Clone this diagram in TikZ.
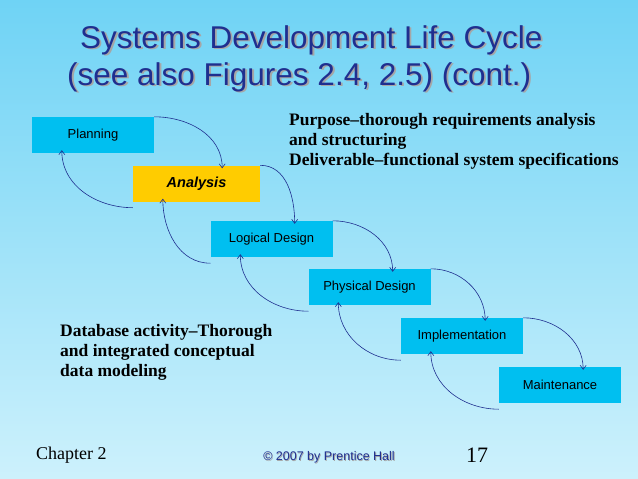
\documentclass[tikz,border=0pt]{standalone}
\usepackage{fontspec}
\setmainfont{Liberation Sans}
\newfontfamily\tnr{Liberation Serif}
\usetikzlibrary{arrows.meta}
\definecolor{bgtop}{HTML}{6FD3F5}
\definecolor{bgbot}{HTML}{CDF1FC}
\definecolor{boxc}{HTML}{00BFF0}
\definecolor{yel}{HTML}{FFCC00}
\definecolor{navy}{HTML}{1F2F8F}
\tikzset{
 stage/.style={fill=boxc,minimum width=122pt,minimum height=36pt,inner sep=0pt,font=\fontsize{13}{15}\selectfont},
 fw/.style={navy,semithick,-{Straight Barb[length=4pt,width=6pt]}},
 txt/.style={font=\tnr\bfseries\fontsize{17.5}{20}\selectfont,align=left,anchor=north west,inner sep=0pt}
}
\begin{document}
\begin{tikzpicture}[x=1pt,y=-1pt]
\shade[top color=bgtop,bottom color=bgbot] (0,0) rectangle (638,479);
\useasboundingbox (0,0) rectangle (638,479);
\foreach \dx/\dy/\c in {1.8/1.8/gray!70, 0/0/navy}{
\node[text=\c,font=\fontsize{31.5}{37}\selectfont,align=left,anchor=north west,inner sep=0pt] (t\dy) at (67+\dx,25+\dy) {\hspace*{13pt}Systems Development Life Cycle\\(see also Figures 2.4, 2.5) (cont.)};}
\node[stage] (p) at (93,135) {Planning};
\node[stage,fill=yel,minimum width=127pt,font=\itshape\bfseries\fontsize{14.5}{16}\selectfont] (a) at (196.5,183.5) {Analysis};
\node[stage] (l) at (271.5,239) {Logical Design};
\node[stage] (ph) at (369.5,287) {Physical Design};
\node[stage] (i) at (462,336) {Implementation};
\node[stage] (m) at (560,385) {Maintenance};
\foreach \s/\t in {p/a,a/l,l/ph,ph/i,i/m}{
 \draw[fw] (\s.north east) to[out=0,in=90] ([xshift=-38pt,yshift=-3pt]\t.north east);
 \draw[fw] ([yshift=-6pt]\t.south west) to[out=180,in=-90] ([xshift=30pt,yshift=3pt]\s.south west);
}
\node[txt] (pu) at (289,113) {Purpose–thorough requirements analysis\\and structuring\\Deliverable–functional system specifications};
\node[txt] (db) at (60,324) {Database activity–Thorough\\and integrated conceptual\\data modeling};
\node[font=\tnr\fontsize{18}{20}\selectfont,anchor=west,inner sep=0pt] (ch) at (36,455) {Chapter 2};
\node[font=\tnr\fontsize{22}{24}\selectfont,anchor=west,inner sep=0pt] (pg) at (466,455) {17};
\node[font=\fontsize{12.5}{14}\selectfont,text=gray!70,inner sep=0pt] (cr0) at (329.8,457.8) {\textcopyright{} 2007 by Prentice Hall};
\node[font=\fontsize{12.5}{14}\selectfont,text=navy,inner sep=0pt] (cr) at (329,457) {\textcopyright{} 2007 by Prentice Hall};
\end{tikzpicture}
\end{document}
